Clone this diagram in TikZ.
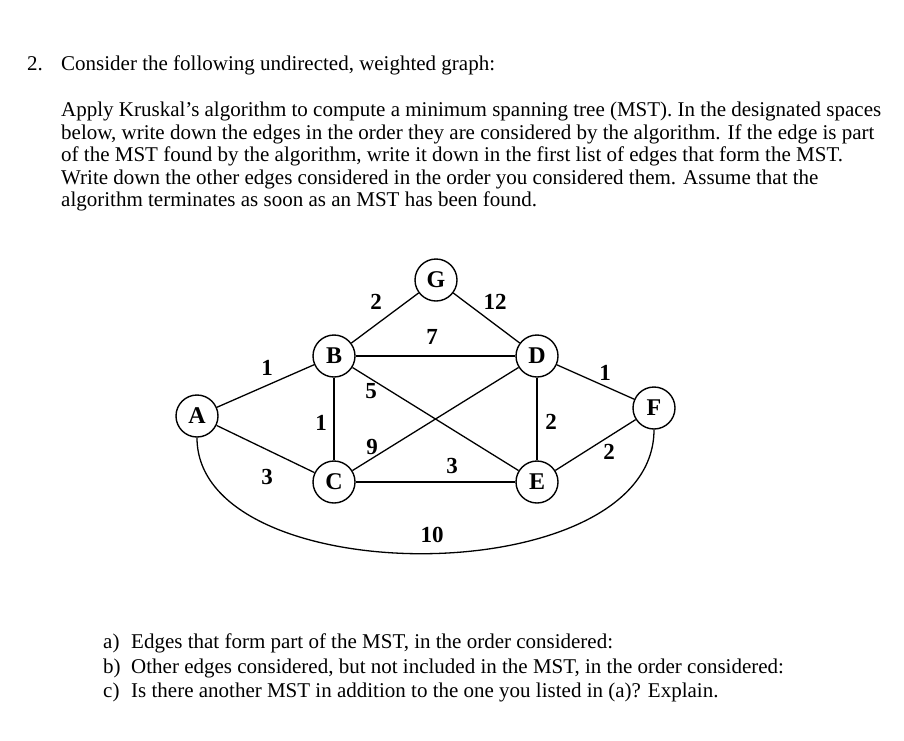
\documentclass[tikz,border=0pt]{standalone}
\usepackage{fontspec}
\setmainfont{Liberation Serif}
\usepackage{tikz}

\tikzset{
  vtx/.style={circle, draw, line width=1.4pt, minimum size=42pt, inner sep=0pt,
    font=\fontsize{24}{26}\selectfont\bfseries},
  wt/.style={inner sep=0pt, font=\fontsize{23}{25}\selectfont\bfseries},
  txt/.style={anchor=base west, inner sep=0pt, font=\fontsize{21}{21}\selectfont},
  edge/.style={line width=1.3pt}
}

\begin{document}
\begin{tikzpicture}[x=1pt, y=-1pt]
  \useasboundingbox (0,0) rectangle (904,740);

  % Question heading
  \node[txt] (num) at (27, 70) {2.};
  \node[txt] (head) at (61, 70) {Consider the following undirected, weighted graph:};

  % Instructions, one line each
  \foreach \ln [count=\i] in {%
      {Apply Kruskal’s algorithm to compute a minimum spanning tree (MST). In the designated spaces},
      {below, write down the edges in the order they are considered by the algorithm. If the edge is part},
      {of the MST found by the algorithm, write it down in the first list of edges that form the MST.},
      {Write down the other edges considered in the order you considered them. Assume that the},
      {algorithm terminates as soon as an MST has been found.}} {
    \node[txt] (par\i) at (61, 94 + 22.5*\i) {\ln};
  }

  % Vertices
  \node[vtx] (G) at (436, 280) {G};
  \node[vtx] (B) at (334, 356) {B};
  \node[vtx] (D) at (537, 356) {D};
  \node[vtx] (A) at (197, 416) {A};
  \node[vtx] (F) at (654, 408) {F};
  \node[vtx] (C) at (334, 482) {C};
  \node[vtx] (E) at (537, 482) {E};

  % Edges
  \foreach \u/\v in {A/B, A/C, B/C, B/G, G/D, B/D, B/E, C/D, C/E, D/E, D/F, E/F} {
    \draw[edge] (\u) -- (\v);
  }
  \draw[edge] (A.south) .. controls +(0,156) and +(0,164) .. (F.south);

  % Weights
  \node[wt] (wAB) at (267, 368) {1};
  \node[wt] (wAC) at (267, 477) {3};
  \node[wt] (wBC) at (321, 423) {1};
  \node[wt] (wBG) at (376, 302) {2};
  \node[wt] (wGD) at (495, 302) {12};
  \node[wt] (wBD) at (432, 337) {7};
  \node[wt] (wBE) at (371, 391) {5};
  \node[wt] (wCD) at (372, 447) {9};
  \node[wt] (wCE) at (452, 466) {3};
  \node[wt] (wDE) at (551, 422) {2};
  \node[wt] (wDF) at (605, 373) {1};
  \node[wt] (wEF) at (609, 452) {2};
  \node[wt] (wAF) at (432, 535) {10};

  % Sub-questions
  \foreach \lab/\ln [count=\i] in {%
      a)/{Edges that form part of the MST, in the order considered:},
      b)/{Other edges considered, but not included in the MST, in the order considered:},
      c)/{Is there another MST in addition to the one you listed in (a)? Explain.}} {
    \node[txt] (lab\i) at (103, 624 + 24.5*\i) {\lab};
    \node[txt] (item\i) at (131, 624 + 24.5*\i) {\ln};
  }
\end{tikzpicture}
\end{document}
